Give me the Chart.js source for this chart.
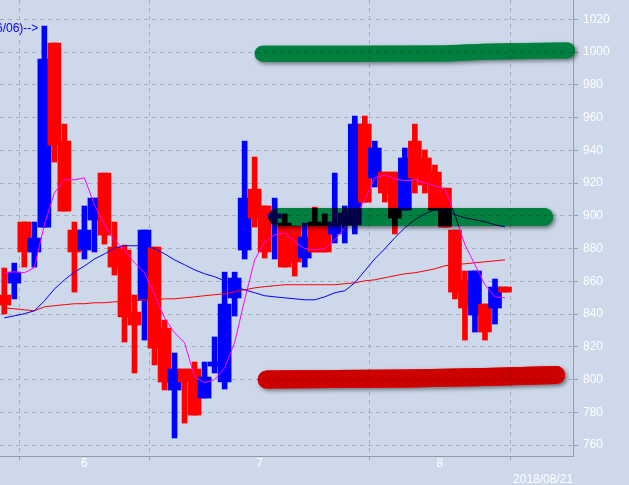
<!DOCTYPE html>
<html>
<head>
<meta charset="utf-8">
<script src="https://cdn.jsdelivr.net/npm/chart.js@4/dist/chart.umd.min.js"></script>
<style>
html, body { margin: 0; padding: 0; background: #cdd8ea; }
#wrap { width: 629px; height: 485px; }
</style>
</head>
<body>
<div id="wrap"><canvas id="chart" width="629" height="485"></canvas></div>
<script>
// one candle per slot, left to right
const opens  = [851.6, 858.9, 896.2, 877.9, 893.1, 1005.5, 945.6, 891.3, 879.1, 897.4,
                926.1, 880.9, 879.1, 841.2, 848.5, 880.9, 831.4, 793.6, 806.4, 806.4,
                788.7, 808.2, 798.5, 849.8, 879.1, 916.3, 906.0, 898.6, 895.6, 893.7,
                874.2, 896.2, 895.6, 888.9, 894.4, 894.4, 956.0, 923.1, 926.7, 926.7,
                903.5, 945.6, 935.3, 926.7, 916.9, 891.3, 860.2, 839.4, 846.1, 843.7, 856.5];
const highs  = [868.1, 871.1, 896.2, 896.2, 1015.9, 1005.5, 956.0, 896.2, 906.0, 910.8,
                926.1, 896.2, 882.1, 851.6, 891.3, 880.9, 836.3, 816.2, 806.4, 810.7,
                810.7, 826.0, 865.6, 865.6, 945.6, 935.9, 906.0, 910.8, 901.1, 893.7,
                895.6, 905.3, 901.1, 926.1, 906.0, 960.9, 960.9, 945.6, 926.7, 926.7,
                941.4, 956.0, 940.2, 931.0, 916.9, 891.3, 866.3, 866.3, 846.1, 861.4, 856.5];
const lows   = [840.0, 849.2, 868.7, 868.7, 893.1, 932.8, 902.9, 853.4, 873.6, 877.9,
                882.7, 863.8, 822.9, 804.0, 824.1, 808.9, 793.6, 764.3, 773.4, 778.3,
                788.7, 804.0, 794.2, 838.8, 873.6, 893.1, 874.2, 873.6, 868.7, 863.2,
                868.7, 877.9, 877.9, 883.4, 883.4, 888.9, 908.4, 917.6, 908.4, 888.9,
                903.5, 913.9, 913.9, 903.5, 893.1, 849.2, 824.1, 829.0, 824.1, 833.9, 853.4];
const closes = [845.5, 865.6, 877.9, 886.4, 995.7, 943.2, 902.9, 877.9, 891.3, 910.8,
                888.2, 868.7, 838.2, 833.3, 891.3, 819.2, 798.5, 806.4, 798.5, 778.3,
                801.5, 810.7, 846.1, 862.0, 910.8, 898.6, 877.9, 901.1, 868.7, 871.8,
                887.0, 877.9, 877.9, 896.2, 901.7, 956.0, 908.4, 941.4, 913.9, 898.6,
                935.3, 923.1, 918.8, 903.5, 893.1, 853.4, 843.7, 866.3, 829.0, 856.5, 853.4];

// moving averages
const maShort = [865.2, 865.8, 865.2, 868.3, 894.5, 914.0, 922.0, 922.0, 923.2, 906.7,
                 894.5, 885.3, 879.2, 871.3, 865.2, 851.8, 837.7, 828.6, 822.5, 801.7,
                 798.0, 799.9, 807.2, 822.5, 848.7, 873.1, 884.1, 888.4, 889.6, 884.1,
                 879.9, 879.2, 879.9, 885.3, 892.7, 898.8, 909.8, 923.2, 925.0, 922.6,
                 921.4, 922.0, 920.1, 918.3, 916.5, 900.6, 882.3, 870.1, 857.9, 850.5, 849.9];
const maMid   = [837.7, 838.9, 840.2, 842.0, 848.0, 855.3, 860.8, 865.6, 869.3, 873.6,
                 876.7, 880.3, 881.7, 881.7, 881.7, 879.9, 876.8, 873.1, 870.1, 867.0,
                 864.6, 862.8, 860.3, 856.7, 854.8, 853.0, 851.2, 850.5, 849.9, 849.3,
                 848.7, 848.7, 850.5, 853.0, 854.2, 859.1, 866.4, 873.7, 879.9, 886.6,
                 892.7, 897.6, 901.2, 903.7, 903.1, 900.6, 898.8, 897.6, 896.3, 894.5, 893.3];
const maLong  = [843.8, 843.2, 842.6, 842.0, 844.4, 845.1, 845.7, 846.3, 846.3, 846.9,
                 846.9, 847.5, 847.5, 848.1, 848.7, 848.7, 849.3, 849.3, 849.9, 850.5,
                 851.2, 851.8, 852.4, 853.6, 854.8, 856.0, 856.7, 857.3, 857.9, 857.9,
                 857.9, 857.9, 857.9, 857.9, 858.5, 859.1, 860.3, 860.9, 862.2, 863.4,
                 864.6, 865.2, 866.4, 867.6, 869.5, 870.1, 870.7, 871.3, 871.9, 872.5, 873.1];

// month separators (in slots) and labels
const monthBounds = [1.5, 14.5, 36.5, 50.5];
const monthLabels = ["6", "7", "8"];
const dateLabel = "2018/08/21";
const datePos = 53.8;
const yTicks = [760, 780, 800, 820, 840, 860, 880, 900, 920, 940, 960, 980, 1000, 1020];

// hand drawn marker lines
const band1000X = [25.8, 44, 48, 56.2];
const band1000Y = [999.0, 999.2, 1000.2, 1001.0];
const band900X  = [27.3, 53.9];
const band900Y  = [899.3, 899.3];
const band800X  = [26.2, 40, 48, 55.1];
const band800Y  = [800.0, 800.6, 801.6, 802.8];

const highNote = "1016(2018/06/06)-->";

const BG = "rgb(205,216,234)";
const GRID = "rgb(168,174,186)";
const AXIS = "rgb(150,154,164)";
const UP = "#0000ff", DOWN = "#ff0000";

const colors = opens.map((o, i) => closes[i] >= o ? UP : DOWN);

// x ticks: month bounds carry grid lines, mids carry labels
const xTickList = [];
monthBounds.forEach(v => xTickList.push({ value: v, label: "", line: true }));
monthLabels.forEach((t, i) => xTickList.push({
  value: (monthBounds[i] + monthBounds[i + 1]) / 2, label: t, line: false }));
xTickList.push({ value: datePos, label: ["", dateLabel], line: false });
xTickList.sort((a, b) => a.value - b.value);

function pts(xs, ys){ return xs.map((x, i) => ({ x: x, y: ys[i] })); }

function band(xs, ys, color, width, order){
  return {
    type: "line", data: pts(xs, ys), marker: true,
    borderColor: color, borderWidth: width, borderCapStyle: "round", borderJoinStyle: "round",
    pointRadius: 0, tension: 0.3, clip: false, order: order
  };
}

function maLine(vals, color, order){
  return {
    type: "line", data: vals.map((v, i) => ({ x: i, y: v })),
    borderColor: color, borderWidth: 1, pointRadius: 0, tension: 0, order: order
  };
}

const bgPlugin = {
  id: "bg",
  beforeDraw(chart){
    const ctx = chart.ctx;
    ctx.save();
    ctx.fillStyle = BG;
    ctx.fillRect(0, 0, chart.width, chart.height);
    ctx.restore();
  }
};

// marker lines: shadow outside, what lies under them is tinted (multiplied) by the marker colour
const markerPlugin = {
  id: "marker",
  beforeDatasetDraw(chart, args){
    if (!chart.data.datasets[args.index].marker) return;
    const snap = document.createElement("canvas");
    snap.width = chart.canvas.width;
    snap.height = chart.canvas.height;
    snap.getContext("2d").drawImage(chart.canvas, 0, 0);
    args.meta._snap = snap;
    const ctx = chart.ctx;
    ctx.save();
    ctx.shadowColor = "rgba(0,0,0,0.5)";
    ctx.shadowBlur = 4;
    ctx.shadowOffsetX = 2;
    ctx.shadowOffsetY = 2;
  },
  afterDatasetDraw(chart, args){
    const ds = chart.data.datasets[args.index];
    if (!ds.marker) return;
    const ctx = chart.ctx;
    ctx.restore();
    const snap = args.meta._snap;
    const sctx = snap.getContext("2d");
    sctx.globalCompositeOperation = "multiply";
    sctx.fillStyle = ds.borderColor;
    sctx.fillRect(0, 0, snap.width, snap.height);
    sctx.globalCompositeOperation = "destination-in";
    args.meta.dataset.draw(sctx, chart.chartArea);
    ctx.save();
    ctx.setTransform(1, 0, 0, 1, 0, 0);
    ctx.drawImage(snap, 0, 0);
    ctx.restore();
  }
};

const notePlugin = {
  id: "note",
  afterDatasetsDraw(chart){
    const { ctx, scales: { x, y } } = chart;
    const top = highs.indexOf(Math.max(...highs));
    ctx.save();
    ctx.font = "12px 'Liberation Sans', Arial, sans-serif";
    ctx.fillStyle = "#0000ff";
    ctx.textAlign = "right";
    ctx.textBaseline = "middle";
    ctx.fillText(highNote, x.getPixelForValue(top) - 6, y.getPixelForValue(highs[top]) + 3);
    ctx.restore();
  }
};

Chart.defaults.font.family = "'Liberation Sans', Arial, sans-serif";
Chart.defaults.font.size = 12;

new Chart(document.getElementById("chart"), {
  type: "bar",
  data: {
    datasets: [
      band(band1000X, band1000Y, "rgb(0,151,70)", 16, 0),
      band(band900X, band900Y, "rgb(0,151,70)", 18, 1),
      band(band800X, band800Y, "rgb(255,0,0)", 18, 2),
      maLine(maShort, "#ff00ff", 3),
      maLine(maMid, "#0000ff", 4),
      maLine(maLong, "#ff0000", 5),
      {
        data: opens.map((o, i) => ({ x: i, y: [o, closes[i]] })),
        backgroundColor: colors, barThickness: 13, grouped: false, order: 6
      },
      {
        data: lows.map((l, i) => ({ x: i, y: [l, highs[i]] })),
        backgroundColor: colors, barThickness: 5, grouped: false, order: 7
      }
    ]
  },
  options: {
    responsive: false,
    devicePixelRatio: 1,
    animation: false,
    events: [],
    layout: { padding: 0 },
    plugins: { legend: { display: false }, tooltip: { enabled: false } },
    scales: {
      x: {
        type: "linear", min: -0.43, max: 56.79, offset: false,
        afterBuildTicks(scale){ scale.ticks = xTickList.map(t => ({ value: t.value })); },
        afterFit(scale){ scale.height = 29; scale.paddingLeft = 0; scale.paddingRight = 0; },
        ticks: {
          autoSkip: false, maxRotation: 0, minRotation: 0, color: "#ffffff", padding: -4,
          font: { size: 12, lineHeight: 1.3 },
          callback: (v, i) => xTickList[i] ? xTickList[i].label : ""
        },
        grid: {
          offset: false, tickLength: 4, tickBorderDash: [1, 0],
          color: c => (xTickList[c.index] && xTickList[c.index].line) ? GRID : "rgba(0,0,0,0)",
          tickColor: c => (xTickList[c.index] && xTickList[c.index].line) ? AXIS : "rgba(0,0,0,0)"
        },
        border: { color: AXIS, dash: [4, 4] }
      },
      y: {
        position: "right", min: 753.3, max: 1031.8,
        afterBuildTicks(scale){ scale.ticks = yTicks.map(v => ({ value: v })); },
        afterFit(scale){ scale.width = 56; scale.paddingTop = 0; scale.paddingBottom = 0; },
        ticks: { color: "#ffffff", padding: 5, font: { size: 12 }, callback: v => String(v) },
        grid: { color: GRID, tickColor: AXIS, tickLength: 5, tickBorderDash: [1, 0] },
        border: { color: AXIS, dash: [4, 4] }
      }
    }
  },
  plugins: [bgPlugin, markerPlugin, notePlugin]
});
</script>
</body>
</html>
